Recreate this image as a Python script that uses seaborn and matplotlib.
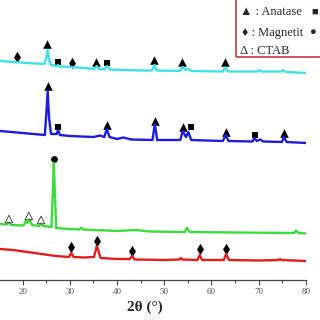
import pandas as pd
import matplotlib
matplotlib.use("Agg")
import matplotlib.pyplot as plt
import seaborn as sns
from matplotlib.patches import Rectangle

# XRD patterns, 2theta (deg) vs stacked intensity (a.u.)
cyan_x = [15.2, 18.0, 21.0, 24.6, 25.0, 25.3, 25.6, 26.0, 27.2, 27.5, 27.8, 30.0, 33.0, 35.2, 35.7,
          36.2, 37.4, 37.9, 38.4, 42.0, 45.0, 47.4, 47.9, 48.4, 53.3, 53.9, 54.5, 55.1, 55.8,
          62.4, 62.9, 63.5, 69.7, 70.1, 70.6, 74.8, 75.2, 75.7, 80.0]
cyan_y = [219, 218, 217, 216, 222, 230, 220, 215, 214, 215, 213.5, 213, 212, 211, 214,
          211, 211, 214, 210.5, 210, 209.5, 209.5, 215, 209.5, 209, 213, 210, 211, 209,
          208.5, 212.5, 208.5, 208.5, 210, 208.5, 208.5, 210, 208, 207]

blue_x = [15.2, 20.0, 24.7, 25.0, 25.3, 25.6, 26.0, 27.2, 27.5, 27.9, 30.0, 35.0, 36.4, 37.3,
          37.8, 38.4, 40.0, 41.3, 43.0, 47.5, 48.0, 48.5, 53.4, 53.9, 54.6, 55.1, 55.7, 62.4,
          63.0, 63.6, 68.7, 69.1, 69.6, 70.3, 71.0, 74.9, 75.4, 75.9, 80.0]
blue_y = [149, 147, 145, 165, 189, 162, 146, 146, 150, 145, 144, 143, 144.5, 143,
          151, 143, 141, 142.5, 140.5, 140, 156, 140, 140, 149, 143, 148, 140, 139,
          145, 139, 138.5, 142, 139, 140.5, 138.5, 138, 143, 138, 137]

green_x = [15.2, 16.6, 17.1, 17.6, 20.2, 20.7, 21.0, 21.5, 22.0, 23.5, 23.9, 24.4, 26.1, 26.4,
           26.6, 26.8, 27.1, 30.0, 32.0, 32.4, 32.8, 40.0, 44.0, 47.0, 54.3, 54.8, 55.4, 65.0,
           77.5, 77.9, 78.4, 80.0]
green_y = [56, 55.5, 57.5, 55, 54.5, 59, 57, 60.5, 55, 54, 56.5, 54, 53, 90,
           117, 90, 52, 51, 50.5, 52.5, 50.5, 49, 50, 48.5, 48, 52, 48, 47.5,
           47, 49.5, 47, 46.5]

red_x = [15.2, 18.0, 21.0, 24.0, 27.0, 29.8, 30.3, 30.8, 33.0, 35.1, 35.5, 35.7, 36.0, 36.5,
         40.0, 42.7, 43.2, 43.7, 50.0, 53.2, 53.5, 53.8, 57.0, 57.5, 58.0, 62.6, 63.1, 63.7,
         70.0, 74.2, 74.5, 74.8, 80.0]
red_y = [31, 30, 28, 26, 24, 23, 27, 23, 22.5, 23, 30, 34, 30, 22,
         21, 21, 24, 20.5, 20, 20.5, 22, 20.5, 20, 25, 20, 20, 26, 20,
         19.5, 20, 21, 20, 19]

# phase markers
anatase_x = [25.2, 35.6, 47.9, 53.8, 62.9, 25.3, 37.8, 48.0, 53.9, 63.0, 75.4]
anatase_y = [236, 218, 220, 218, 218, 194, 155, 159, 153, 148, 147]
square_x = [27.5, 37.9, 27.5, 55.7, 69.3]
square_y = [218, 217, 153, 153, 145]
magnetite_x = [18.8, 30.4, 30.3, 35.7, 43.2, 57.5, 63.1]
magnetite_y = [223, 217, 33, 39, 29, 31, 31]
circle_x = [26.6]
circle_y = [121]
ctab_x = [17.1, 21.3, 23.9]
ctab_y = [61, 64, 60]

sns.set_style("white")
plt.rcParams["font.family"] = ["Liberation Serif", "DejaVu Sans"]

fig = plt.figure(figsize=(3.2, 3.2), dpi=100)
ax = fig.add_axes([0, 40 / 320, 305.9 / 320, 280 / 320])

curves = [(cyan_x, cyan_y, "#3fe0e6"), (blue_x, blue_y, "#1c1cdc"),
          (green_x, green_y, "#3cdc3c"), (red_x, red_y, "#e31b1b")]
for cx, cy, col in curves:
    df = pd.DataFrame({"two_theta": cx, "intensity": cy})
    sns.lineplot(data=df, x="two_theta", y="intensity", sort=False, estimator=None,
                 color=col, linewidth=1.7, ax=ax)

sns.scatterplot(x=anatase_x, y=anatase_y, marker="^", s=38, color="black", linewidth=0, ax=ax)
sns.scatterplot(x=square_x, y=square_y, marker="s", s=14, color="black", linewidth=0, ax=ax)
sns.scatterplot(x=magnetite_x, y=magnetite_y, marker="d", s=34, color="black", linewidth=0, ax=ax)
sns.scatterplot(x=circle_x, y=circle_y, marker="o", s=24, color="black", linewidth=0, ax=ax)
ax.scatter(ctab_x, ctab_y, marker="^", s=30, facecolors="none", edgecolors="#333333",
           linewidths=0.6, zorder=3)

ax.set_xlim(15.2, 80)
ax.set_ylim(0, 280)
for side in ["left", "right", "top"]:
    ax.spines[side].set_visible(False)
ax.spines["bottom"].set_color("#444444")
ax.spines["bottom"].set_linewidth(0.9)
ax.set_yticks([])
ax.set_xticks([20, 30, 40, 50, 60, 70, 80])
ax.set_xticks([25, 35, 45, 55, 65, 75], minor=True)
ax.tick_params(axis="x", which="major", direction="out", length=3.5, width=0.8,
               color="#444444", labelsize=6.5, labelcolor="#555555", pad=2.5, bottom=True)
ax.tick_params(axis="x", which="minor", direction="out", length=2, width=0.8,
               color="#444444", bottom=True)
ax.set_ylabel("")
ax.set_xlabel("2θ (°)", fontsize=11, fontweight="bold")
ax.xaxis.set_label_coords(145 / 305.9, -0.072)

# legend box, cut off at the right edge as in the source figure
fig.patches.append(Rectangle((236 / 320, 1 - 57 / 320), 100 / 320, 60 / 320,
                             transform=fig.transFigure, fill=False,
                             edgecolor="#c03c3c", linewidth=1.2))
fig.text(240 / 320, 1 - 12 / 320, "▲ : Anatase", fontsize=9, va="center")
fig.text(311 / 320, 1 - 12 / 320, "■", fontsize=8, va="center")
fig.text(242 / 320, 1 - 33 / 320, "♦ : Magnetit", fontsize=9, va="center")
fig.text(309 / 320, 1 - 33 / 320, "●", fontsize=8, va="center")
fig.text(240 / 320, 1 - 51 / 320, "Δ : CTAB", fontsize=9, va="center")

fig.savefig("out.png", dpi=100)
